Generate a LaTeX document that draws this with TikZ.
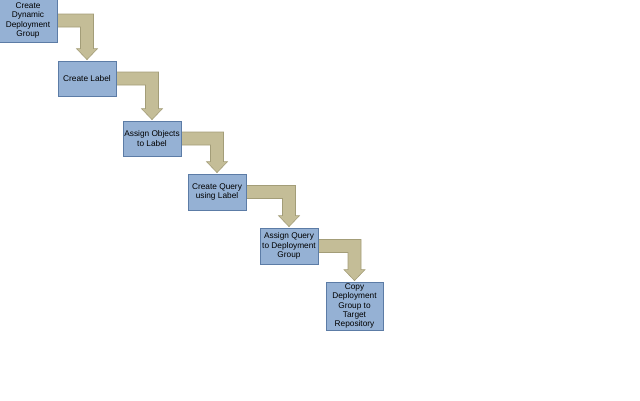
\documentclass[tikz,border=0pt]{standalone}
\usepackage{fontspec}
\setmainfont{Liberation Sans}
\usetikzlibrary{calc,backgrounds}
\definecolor{boxfill}{HTML}{95B1D4}
\definecolor{boxline}{HTML}{5C7CA6}
\definecolor{arrowfill}{HTML}{C4BD97}
\definecolor{arrowline}{HTML}{A39D78}
\tikzset{
  stepbox/.style={draw=boxline, fill=boxfill, line width=0.8pt, minimum width=58pt,
    minimum height=35pt, inner sep=0pt, align=center,
    font=\fontsize{8.3}{9.4}\selectfont},
  flowarrow/.style={fill=arrowfill, draw=arrowline, line width=0.6pt, line join=miter}
}
\newcommand\bentarrow[2]{%
  \draw[flowarrow] let \p1=(#1.east), \p2=(#2.north) in
    (\x1,\y1+6.5pt) -- (\x2+6.5pt,\y1+6.5pt) -- (\x2+6.5pt,\y2+12pt)
    -- (\x2+10.5pt,\y2+12pt) -- (\x2,\y2+1pt) -- (\x2-10.5pt,\y2+12pt)
    -- (\x2-6.5pt,\y2+12pt) -- (\x2-6.5pt,\y1-6.5pt) -- (\x1,\y1-6.5pt) -- cycle;}
\begin{document}
\begin{tikzpicture}[x=1pt, y=-1pt]
  \useasboundingbox (0,0) rectangle (640,400);
  \node[stepbox, minimum height=43pt] (group) at (28,20.5) {Create\\Dynamic\\Deployment\\Group};
  \node[stepbox] (label) at (87,78.5) {Create Label};
  \node[stepbox] (assign) at (152,138.5) {Assign Objects\\to Label};
  \node[stepbox, minimum height=36pt] (query) at (217,192) {Create Query\\using Label};
  \node[stepbox, minimum height=36pt] (qgroup) at (289,246) {Assign Query\\to Deployment\\Group};
  \node[stepbox, minimum width=57pt, minimum height=48pt] (copy) at (354.5,306) {Copy\\Deployment\\Group to\\Target\\Repository};
  \begin{scope}[on background layer]
    \bentarrow{group}{label}
    \bentarrow{label}{assign}
    \bentarrow{assign}{query}
    \bentarrow{query}{qgroup}
    \bentarrow{qgroup}{copy}
  \end{scope}
\end{tikzpicture}
\end{document}
